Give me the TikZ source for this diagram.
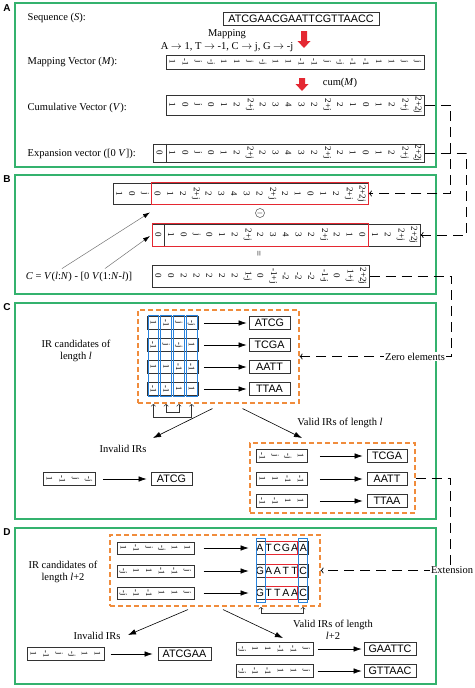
\documentclass[tikz,border=0pt]{standalone}
\usepackage{fontspec}
\setmainfont{Liberation Serif}
\newfontfamily\seqfont{Liberation Sans}
\usetikzlibrary{positioning,calc,arrows.meta}

\definecolor{panelgreen}{RGB}{52,178,110}
\definecolor{candorange}{RGB}{240,140,60}
\definecolor{colblue}{RGB}{40,130,220}
\definecolor{markred}{RGB}{228,40,50}

\tikzstyle{panel}=[draw=panelgreen, line width=1.1pt]
\tikzstyle{panellabel}=[font=\seqfont\bfseries\fontsize{10}{10}\selectfont, inner sep=0]
\tikzstyle{txt}=[font=\fontsize{10.5}{11.5}\selectfont, inner sep=0.5pt]
\tikzstyle{vecframe}=[draw=black!80, line width=0.8pt, inner sep=0, anchor=west]
\tikzstyle{valnode}=[rotate=-90, font=\fontsize{9}{9}\selectfont, inner sep=0]
\tikzstyle{mapval}=[rotate=-90, font=\fontsize{8.5}{8.5}\selectfont, inner sep=0]
\tikzstyle{seqbox}=[draw=black!80, line width=0.8pt, font=\seqfont\fontsize{10.8}{10.8}\selectfont, inner sep=0, minimum height=12.5pt]
\tikzstyle{letter}=[font=\seqfont\fontsize{10.5}{10.5}\selectfont, inner sep=0]
\tikzstyle{candbox}=[draw=candorange, line width=1.1pt, dash pattern=on 5pt off 3pt]
\tikzstyle{redframe}=[draw=markred, line width=0.8pt]
\tikzstyle{bluecol}=[draw=colblue, line width=0.9pt]
\tikzstyle{flow}=[line width=0.6pt, -{Latex[length=8pt,width=5.5pt]}]
\tikzstyle{pointer}=[draw=black!55, line width=0.5pt, -{Latex[length=7pt,width=4.5pt,black]}]
\tikzstyle{link}=[line width=0.7pt, dash pattern=on 10pt off 6pt, -{To[length=3pt,width=6pt]}]
\tikzstyle{pair}=[line width=0.5pt, black!80, {To[length=2.5pt,width=5pt]}-{To[length=2.5pt,width=5pt]}]

% name, left x, centre y, cells, cell width, height, entry style, entries
\newcommand{\vecbox}[8]{%
  \node[vecframe, minimum width=#4*#5pt, minimum height=#6pt] (#1) at (#2,#3) {};
  \foreach \v [count=\i] in {#8}
    \node[#7] at ($(#1.west)+({(\i-0.5)*#5},0)$) {\v};
}
% name, centre x, centre y, letters (six cells)
\newcommand{\letterbox}[4]{%
  \node[seqbox, minimum width=52pt] (#1) at (#2,#3) {};
  \foreach \c [count=\i] in {#4}
    \node[letter] at ($(#1.west)+({(\i-0.5)*8.67},0)$) {\c};
  \draw[redframe] ($(#1.north west)+(10,0)$) rectangle ($(#1.south west)+(42,0)$);
}
\newcommand{\redarrow}[3]{%
  \fill[markred] (#1-3,#2) -- (#1+3,#2) -- (#1+3,#3-7) -- (#1+6.5,#3-7) -- (#1,#3)
    -- (#1-6.5,#3-7) -- (#1-3,#3-7) -- cycle;}

\begin{document}
\begin{tikzpicture}[x=1pt,y=-1pt]
\useasboundingbox (0,0) rectangle (474,688);

% panels
\draw[panel] (15,3) rectangle (436,167);
\draw[panel] (15,175) rectangle (436,294);
\draw[panel] (15,303) rectangle (436,519);
\draw[panel] (15,528) rectangle (436,684);
\node[panellabel] (labA) at (7,8) {A};
\node[panellabel] (labB) at (7,179) {B};
\node[panellabel] (labC) at (7,307) {C};
\node[panellabel] (labD) at (7,532) {D};

% panel A
\node[txt, anchor=west] (seqtxt) at (27,18) {Sequence (\textit{S}):};
\node[seqbox, minimum width=156pt] (seq) at (301,19) {ATCGAACGAATTCGTTAACC};
\node[txt] (maptxt) at (227,34) {Mapping};
\node[txt] (rule) at (227,47) {A $\rightarrow$ 1, T $\rightarrow$ -1, C $\rightarrow$ j, G $\rightarrow$ -j};
\redarrow{304}{31}{48}
\node[txt, anchor=west] (mtxt) at (27,62) {Mapping Vector (\textit{M}):};
\vecbox{M}{166}{62}{20}{12.9}{14}{mapval}{1,-1,j,-j,1,1,j,-j,1,1,-1,-1,j,-j,-1,-1,1,1,j,j}
\redarrow{302}{78}{91}
\node[txt] (cumtxt) at (340,83) {cum(\textit{M})};
\node[txt, anchor=west] (vtxt) at (27,108) {Cumulative Vector (\textit{V}):};
\vecbox{V}{166}{105}{20}{12.9}{20}{valnode}{1,0,j,0,1,2,2+j,2,3,4,3,2,2+j,2,1,0,1,2,2+j,2+2j}
\node[txt, anchor=west] (etxt) at (27,154) {Expansion vector ([0 \textit{V}]):};
\vecbox{E}{153}{153}{21}{12.9}{18}{valnode}{0,1,0,j,0,1,2,2+j,2,3,4,3,2,2+j,2,1,0,1,2,2+j,2+2j}
\draw[black!80, line width=0.8pt] ($(E.north west)+(12.9,0)$) -- ($(E.south west)+(12.9,0)$);

% panel B
\vecbox{T}{113}{193.5}{20}{12.75}{21}{valnode}{1,0,j,0,1,2,2+j,2,3,4,3,2,2+j,2,1,0,1,2,2+j,2+2j}
\draw[redframe] ($(T.north west)+(38.25,0)$) rectangle (T.south east);
\node[circle, draw=black!70, line width=0.5pt, inner sep=0, minimum size=9pt, font=\fontsize{8}{8}\selectfont] (minus) at (260,213) {$-$};
\vecbox{S}{152}{235}{21}{12.75}{22}{valnode}{0,1,0,j,0,1,2,2+j,2,3,4,3,2,2+j,2,1,0,1,2,2+j,2+2j}
\draw[black!80, line width=0.8pt] ($(S.north west)+(12.75,0)$) -- ($(S.south west)+(12.75,0)$);
\draw[redframe] (S.north west) rectangle ($(S.south west)+(216.75,0)$);
\node[rotate=90, font=\fontsize{10}{10}\selectfont, inner sep=0] (eq) at (260,254) {=};
\vecbox{C}{152}{276}{17}{12.75}{22}{valnode}{0,0,2,2,2,2,2,1-j,0,-1+j,-2,-2,-2,-1-j,0,1+j,2+2j}
\node[txt] (ctxt) at (79,277) {\textit{C} = \textit{V}(\textit{l}:\textit{N}) - [0 \textit{V}(1:\textit{N}-\textit{l})]};
\draw[pointer] ([xshift=-17pt,yshift=3pt]ctxt.north) -- ($(T.south west)+(37,8)$);
\draw[pointer] ([xshift=26pt,yshift=3pt]ctxt.north) -- ($(S.west)+(-2,1)$);

% panel C
\node[candbox, minimum width=161pt, minimum height=93pt] (candC) at (218.5,356.5) {};
\node[txt, align=center] (candCtxt) at (76,351) {IR candidates of\\length \textit{l}};
\vecbox{g1}{147}{323}{4}{12.75}{13}{mapval}{1,-1,j,-j}
\vecbox{g2}{147}{345}{4}{12.75}{13}{mapval}{-1,j,-j,1}
\vecbox{g3}{147}{367}{4}{12.75}{13}{mapval}{1,1,-1,-1}
\vecbox{g4}{147}{389}{4}{12.75}{13}{mapval}{-1,-1,1,1}
\foreach \k in {0,...,3}
  \draw[bluecol] ($(g1.north west)+({\k*12.75+1},-1)$) rectangle ($(g4.south west)+({\k*12.75+11.8},1)$);
\node[seqbox, minimum width=41pt] (l1) at (269.5,323) {ATCG};
\node[seqbox, minimum width=41pt] (l2) at (269.5,345) {TCGA};
\node[seqbox, minimum width=41pt] (l3) at (269.5,367) {AATT};
\node[seqbox, minimum width=41pt] (l4) at (269.5,389) {TTAA};
\foreach \r in {1,...,4}
  \draw[flow] ([xshift=5pt]g\r.east) -- ([xshift=-2pt]l\r.west);
\coordinate (b1) at (153.4,404);
\coordinate (b2) at (166.1,404);
\coordinate (b3) at (178.9,404);
\coordinate (b4) at (191.6,404);
\draw[pair] (b1) -- ++(0,13) -| (b4);
\draw[pair] (b2) -- ++(0,8) -| (b3);
\node[txt] (invCtxt) at (123,449) {Invalid IRs};
\node[txt] (valCtxt) at (340,423) {Valid IRs of length \textit{l}};
\coordinate (toinvC) at (153,438);
\coordinate (tovalC) at (302,438);
\draw[flow] ([xshift=-6pt,yshift=-5pt]candC.south) -- (toinvC);
\draw[flow] ([xshift=24pt,yshift=-5pt]candC.south) -- (tovalC);
\vecbox{ic1}{43}{479}{4}{13}{13}{mapval}{1,-1,j,-j}
\node[seqbox, minimum width=41pt] (il1) at (171.5,479) {ATCG};
\draw[flow] ([xshift=7pt]ic1.east) -- ([xshift=-4pt]il1.west);
\node[candbox, minimum width=165pt, minimum height=70pt] (validC) at (332.5,478) {};
\vecbox{vc1}{256}{456}{4}{12.75}{13}{mapval}{-1,j,-j,1}
\vecbox{vc2}{256}{479}{4}{12.75}{13}{mapval}{1,1,-1,-1}
\vecbox{vc3}{256}{501}{4}{12.75}{13}{mapval}{-1,-1,1,1}
\node[seqbox, minimum width=40pt] (vl1) at (387,456) {TCGA};
\node[seqbox, minimum width=40pt] (vl2) at (387,479) {AATT};
\node[seqbox, minimum width=40pt] (vl3) at (387,501) {TTAA};
\foreach \r in {1,...,3}
  \draw[flow] ([xshift=12pt]vc\r.east) -- ([xshift=-4pt]vl\r.west);

% panel D
\node[candbox, minimum width=210pt, minimum height=71pt] (candD) at (215,570.5) {};
\node[txt, align=center] (candDtxt) at (63,572) {IR candidates of\\length \textit{l}+2};
\vecbox{d1}{117}{548}{6}{12.8}{12}{mapval}{1,-1,j,-j,1,1}
\vecbox{d2}{117}{571}{6}{12.8}{12}{mapval}{-j,1,1,-1,-1,j}
\vecbox{d3}{117}{593}{6}{12.8}{12}{mapval}{-j,-1,-1,1,1,j}
\letterbox{dl1}{282}{548}{A,T,C,G,A,A}
\letterbox{dl2}{282}{571}{G,A,A,T,T,C}
\letterbox{dl3}{282}{593}{G,T,T,A,A,C}
\draw[bluecol] ($(dl1.north west)+(1,-3)$) rectangle ($(dl3.south west)+(10,3)$);
\draw[bluecol] ($(dl1.north east)+(-10,-3)$) rectangle ($(dl3.south east)+(-1,3)$);
\foreach \r in {1,...,3}
  \draw[flow] ([xshift=9pt]d\r.east) -- ([xshift=-7pt]dl\r.west);
\coordinate (e1) at (261,607);
\coordinate (e2) at (303,607);
\draw[pair] (e1) -- ++(0,6) -| (e2);
\node[txt] (invDtxt) at (97,636) {Invalid IRs};
\node[txt, align=center] (valDtxt) at (333,630) {Valid IRs of length\\\textit{l}+2};
\coordinate (toinvD) at (128,635);
\coordinate (tovalD) at (283,638);
\draw[flow] ([xshift=-27pt,yshift=-3pt]candD.south) -- (toinvD);
\draw[flow] ([xshift=8pt,yshift=-3pt]candD.south) -- (tovalD);
\vecbox{id1}{27}{654}{6}{12.8}{13}{mapval}{1,-1,j,-j,1,1}
\node[seqbox, minimum width=53pt] (idl1) at (184.5,654) {ATCGAA};
\draw[flow] ([xshift=6pt]id1.east) -- ([xshift=-5pt]idl1.west);
\vecbox{vd1}{236}{649}{6}{12.8}{13}{mapval}{-j,1,1,-1,-1,j}
\vecbox{vd2}{236}{671}{6}{12.8}{13}{mapval}{-j,-1,-1,1,1,j}
\node[seqbox, minimum width=52pt] (vdl1) at (390,649) {GAATTC};
\node[seqbox, minimum width=52pt] (vdl2) at (390,671) {GTTAAC};
\foreach \r in {1,2}
  \draw[flow] ([xshift=4pt]vd\r.east) -- ([xshift=-2pt]vdl\r.west);

% links on the right
\draw[link] (V.east) -- ++(26,0) |- (T.east);
\draw[link] (E.east) -- ++(42,0) |- (S.east);
\draw[link] (C.east) -- ++(82,0) |- (candC.east);
\draw[link] (validC.east) -- ++(35,0) |- (candD.east);
\node[txt, fill=white, inner sep=1pt] (zero) at (415,356.5) {Zero elements};
\node[txt, fill=white, inner sep=1pt] (ext) at (452,570.5) {Extension};
\end{tikzpicture}
\end{document}
